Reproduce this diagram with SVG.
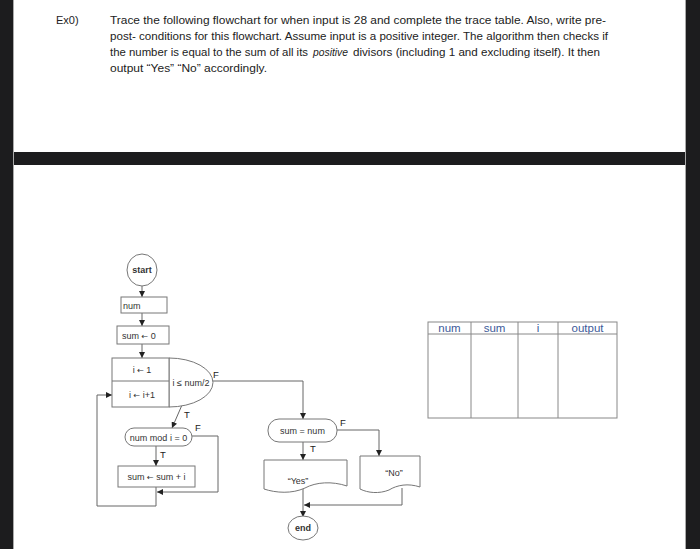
<svg xmlns="http://www.w3.org/2000/svg" width="700" height="549" viewBox="0 0 700 549">
<style>
.q{font-family:"Liberation Sans",Arial,sans-serif;font-size:11px;fill:#222}
.f{font-family:"Liberation Sans",Arial,sans-serif;font-size:9px;fill:#333}
.a{font-family:"DejaVu Sans",sans-serif;font-size:8px}
.l{font-family:"Liberation Sans",Arial,sans-serif;font-size:9.5px;fill:#222}
.s{fill:#fff;stroke:#777;stroke-width:1}
.c{fill:none;stroke:#666;stroke-width:1}
.t{stroke:#888;stroke-width:1;fill:none}
.h{font-family:"Liberation Sans",Arial,sans-serif;font-size:11.5px;fill:#3d5a99;text-anchor:middle}
.frame{fill:#1c1c1e}
</style>
<defs>
<marker id="ah" viewBox="0 0 10 10" refX="10" refY="5" markerWidth="6" markerHeight="6" orient="auto" markerUnits="userSpaceOnUse">
<path d="M0,0 L10,5 L0,10 Z" fill="#222"/>
</marker>
</defs>
<rect width="700" height="549" fill="#fff"/>
<g id="question">
<text class="q" x="56" y="24" font-size="12">Ex0)</text>
<text class="q" x="110" y="24" textLength="496" lengthAdjust="spacingAndGlyphs">Trace the following flowchart for when input is 28 and complete the trace table. Also, write pre-</text>
<text class="q" x="110" y="40" textLength="498" lengthAdjust="spacingAndGlyphs">post- conditions for this flowchart. Assume input is a positive integer.  The algorithm then checks if</text>
<text class="q" x="110" y="56" textLength="198" lengthAdjust="spacingAndGlyphs">the number is equal to the sum of all its</text>
<text class="q" x="313" y="56" textLength="35" lengthAdjust="spacingAndGlyphs" font-style="italic" font-size="10">positive</text>
<text class="q" x="353" y="56" textLength="247" lengthAdjust="spacingAndGlyphs">divisors (including 1 and excluding itself). It then</text>
<text class="q" x="110" y="72" textLength="157" lengthAdjust="spacingAndGlyphs">output “Yes” “No” accordingly.</text>
</g>
<g id="frame">
<rect class="frame" x="0" y="0" width="13" height="549"/>
<rect class="frame" x="686" y="0" width="14" height="549"/>
<rect class="frame" x="0" y="152" width="700" height="13"/>
<rect x="13" y="0" width="1" height="549" fill="#aaa"/>
<rect x="685" y="0" width="1" height="549" fill="#aaa"/>
</g>
<g id="connectors">
<path class="c" d="M142,286 V297" marker-end="url(#ah)"/>
<path class="c" d="M142,313 V326" marker-end="url(#ah)"/>
<path class="c" d="M142,344 V358" marker-end="url(#ah)"/>
<path class="c" d="M213,381 H303 V419" marker-end="url(#ah)"/>
<path class="c" d="M182,405 L172,428" marker-end="url(#ah)"/>
<path class="c" d="M192,436 H218 V492 H157" marker-end="url(#ah)"/>
<path class="c" d="M156,446 V466" marker-end="url(#ah)"/>
<path class="c" d="M156,487 V506 H97 V395 H112" marker-end="url(#ah)"/>
<path class="c" d="M303,442 V460" marker-end="url(#ah)"/>
<path class="c" d="M337,430 H379 V456" marker-end="url(#ah)"/>
<path class="c" d="M303,489 V517" marker-end="url(#ah)"/>
<path class="c" d="M402,488 V505 H304" marker-end="url(#ah)"/>
</g>
<g id="labels">
<text class="l" x="213" y="378">F</text>
<text class="l" x="184" y="418">T</text>
<text class="l" x="195" y="431">F</text>
<text class="l" x="160" y="458">T</text>
<text class="l" x="340" y="426">F</text>
<text class="l" x="310" y="452">T</text>
</g>
<g id="start">
<ellipse class="s" cx="142" cy="270" rx="15" ry="16"/>
<text class="f" x="142" y="272.5" text-anchor="middle" font-size="7" font-weight="bold" fill="#444">start</text>
</g>
<g id="num">
<rect class="s" x="121" y="297" width="46" height="16"/>
<text class="f" x="123" y="308.5">num</text>
</g>
<g id="sum0">
<rect class="s" x="117" y="326" width="52" height="18"/>
<text class="f" x="122" y="338.5">sum <tspan class="a">←</tspan> 0</text>
</g>
<g id="loop">
<path class="s" d="M169,358 A44,24.5 0 0 1 169,407 Z"/>
<rect class="s" x="112" y="358" width="57" height="49"/>
<line class="s" x1="112" y1="381" x2="169" y2="381"/>
<text class="f" x="142" y="372.5" text-anchor="middle">i <tspan class="a">←</tspan> 1</text>
<text class="f" x="142" y="398" text-anchor="middle">i <tspan class="a">←</tspan> i+1</text>
<text class="f" x="191" y="386" text-anchor="middle">i ≤ num/2</text>
</g>
<g id="nummod">
<rect class="s" x="125" y="428" width="67" height="18" rx="9"/>
<text class="f" x="158.5" y="440.5" text-anchor="middle">num mod i = 0</text>
</g>
<g id="sumadd">
<rect class="s" x="118" y="466" width="77" height="21"/>
<text class="f" x="156.5" y="479.5" text-anchor="middle">sum <tspan class="a">←</tspan> sum + i</text>
</g>
<g id="sumeq">
<rect class="s" x="268" y="419" width="69" height="23" rx="11"/>
<text class="f" x="302.5" y="433.5" text-anchor="middle">sum = num</text>
</g>
<g id="yes">
<path class="s" d="M264,460 H347 V486 C332,481 316,482 305,488 C292,494 276,493 264,489 Z"/>
<text class="f" x="298" y="484" text-anchor="middle" font-size="10">“Yes”</text>
</g>
<g id="no">
<path class="s" d="M360,456 H420 V487 C408,483 397,485 389,490 C379,494 368,493 360,489 Z"/>
<text class="f" x="394" y="476" text-anchor="middle" font-size="9.5">“No”</text>
</g>
<g id="end">
<ellipse class="s" cx="303" cy="528" rx="15" ry="12"/>
<text class="f" x="303" y="530.5" text-anchor="middle" font-size="7" font-weight="bold" fill="#444">end</text>
</g>
<g id="table">
<rect class="t" x="428" y="322" width="189" height="96"/>
<line class="t" x1="428" y1="334" x2="617" y2="334"/>
<line class="t" x1="471" y1="322" x2="471" y2="418"/>
<line class="t" x1="518" y1="322" x2="518" y2="418"/>
<line class="t" x1="558" y1="322" x2="558" y2="418"/>
<text class="h" x="449.5" y="332">num</text>
<text class="h" x="494.5" y="332">sum</text>
<text class="h" x="538" y="332">i</text>
<text class="h" x="587.5" y="332">output</text>
</g>
</svg>
